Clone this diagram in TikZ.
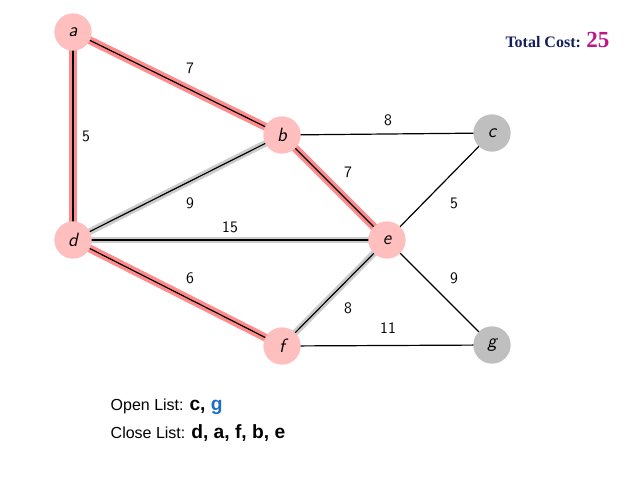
\documentclass[tikz,border=0pt]{standalone}
\usepackage{fontspec}
\newfontfamily\myarial{Liberation Sans}
\newfontfamily\mytimes{Liberation Serif}
\begin{document}
\begin{tikzpicture}[x=0.75pt,y=-0.75pt,
  v/.style={circle,minimum size=28pt,inner sep=0pt,font=\sffamily\itshape\Large},
  vr/.style={v,fill=red!25!white},
  vg/.style={v,fill=black!25},
  hr/.style={line width=6pt,red!45!white},
  hg/.style={line width=5pt,black!20},
  e/.style={line width=0.9pt,black},
  w/.style={font=\sffamily\large}]
\useasboundingbox (0,0) rectangle (638,478);
\coordinate (A) at (73,32); \coordinate (B) at (282,135); \coordinate (C) at (492,133);
\coordinate (D) at (73,240); \coordinate (E) at (387,240); \coordinate (F) at (282,346); \coordinate (G) at (492,345);
\draw[hr] (A)--(B); \draw[hr] (A)--(D); \draw[hr] (B)--(E); \draw[hr] (D)--(F);
\draw[hg] (D)--(B); \draw[hg] (D)--(E); \draw[hg] (F)--(E);
\foreach \p/\q in {A/B,A/D,B/E,D/F,D/B,D/E,F/E,B/C,C/E,E/G,F/G} \draw[e] (\p)--(\q);
\node[vr] (a) at (A) {a};
\node[vr] (b) at (B) {b};
\node[vg] (c) at (C) {c};
\node[vr] (d) at (D) {d};
\node[vr] (e) at (E) {e};
\node[vr] (f) at (F) {f};
\node[vg] (g) at (G) {g};
\node[w] (l1) at (190,68) {7};
\node[w] (l2) at (86,136) {5};
\node[w] (l3) at (388,120) {8};
\node[w] (l4) at (190,203) {9};
\node[w] (l5) at (230,227) {15};
\node[w] (l6) at (348,172) {7};
\node[w] (l7) at (454,203) {5};
\node[w] (l8) at (190,278) {6};
\node[w] (l9) at (348,308) {8};
\node[w] (l10) at (454,278) {9};
\node[w] (l11) at (388,328) {11};
\node[anchor=east,font=\mytimes\bfseries\large] (tc) at (614,40) {\textcolor[RGB]{20,30,90}{Total Cost:} \textcolor[RGB]{190,20,140}{\LARGE 25}};
\node[anchor=west,font=\myarial\large] (ol) at (106,407) {Open List: {\bfseries\Large c, \textcolor[RGB]{30,110,200}{g}}};
\node[anchor=west,font=\myarial\large] (cl) at (106,433) {Close List: {\bfseries\Large d, a, f, b, e}};
\end{tikzpicture}
\end{document}
